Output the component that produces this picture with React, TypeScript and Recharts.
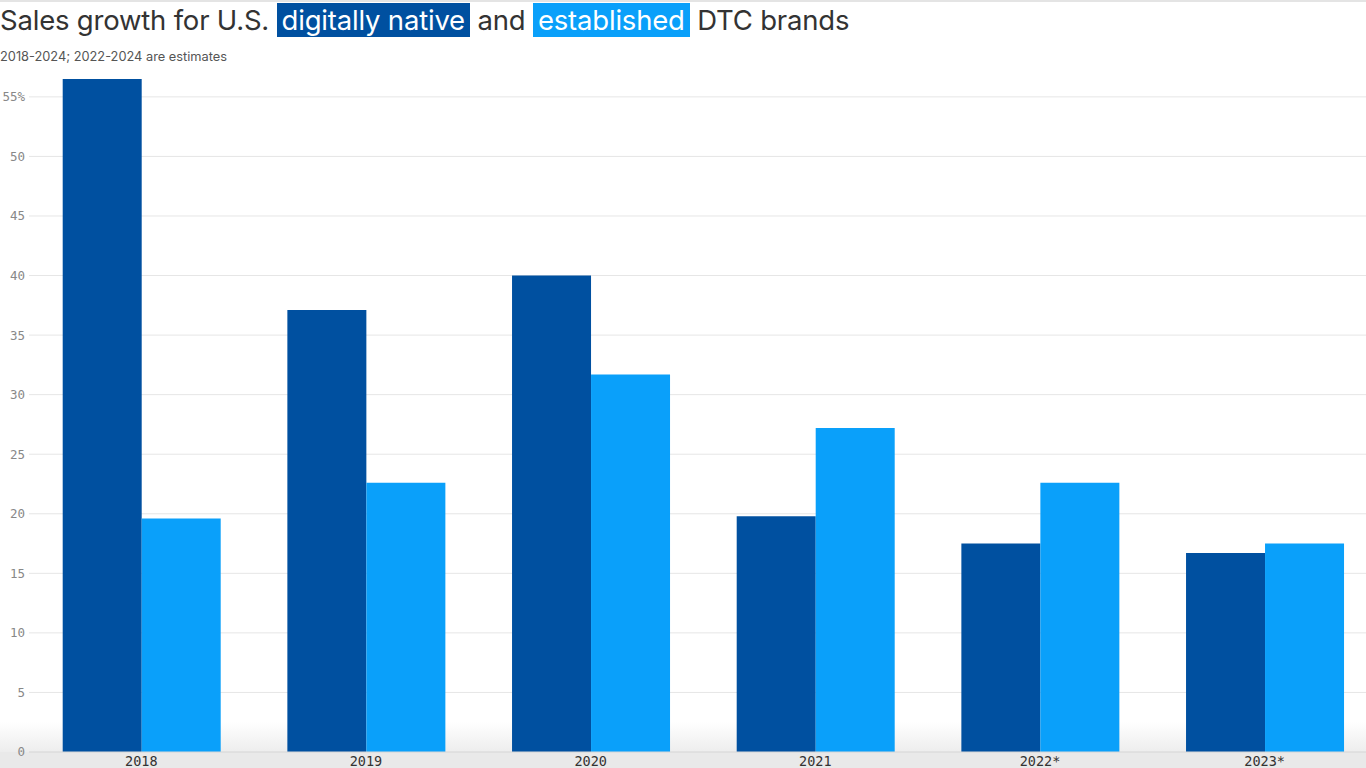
import React from "react";
import { BarChart, Bar, XAxis, YAxis, CartesianGrid } from "recharts";

const years = ["2018", "2019", "2020", "2021", "2022*", "2023*"];
const digitallyNative = [56.5, 37.1, 40.0, 19.8, 17.5, 16.7];
const established = [19.6, 22.6, 31.7, 27.2, 22.6, 17.5];
const yTicks = [0, 5, 10, 15, 20, 25, 30, 35, 40, 45, 50, 55];

const data = years.map((y, i) => ({
  year: y,
  native: digitallyNative[i],
  established: established[i],
}));

const DARK = "#0050a0";
const LIGHT = "#0aa0fa";
const MONO = "'DejaVu Sans Mono', 'Liberation Mono', monospace";

export default function App() {
  return (
    <div
      style={{
        position: "absolute",
        left: 0,
        top: 0,
        width: 1366,
        height: 768,
        overflow: "hidden",
        background: "#fff",
        fontFamily: "Inter, 'Noto Sans', sans-serif",
      }}
    >
      <div style={{ position: "absolute", left: 0, top: 0, width: 1366, height: 2, background: "#e4e4e4" }} />
      <div
        style={{
          position: "absolute",
          left: 0,
          top: 722,
          width: 1366,
          height: 30,
          background: "linear-gradient(#ffffff, #ededed)",
        }}
      />
      <div
        style={{
          position: "absolute",
          left: 0,
          top: 752,
          width: 1366,
          height: 16,
          background: "#e9e9e9",
        }}
      />
      <div
        style={{
          position: "absolute",
          left: 0,
          top: 3,
          fontSize: 27.5,
          lineHeight: "34px",
          color: "#333",
          whiteSpace: "nowrap",
          letterSpacing: -0.2,
        }}
      >
        Sales growth for U.S.{" "}
        <span style={{ background: DARK, color: "#fff", padding: "0 5px" }}>digitally native</span> and{" "}
        <span style={{ background: LIGHT, color: "#fff", padding: "0 5px" }}>established</span> DTC brands
      </div>
      <div
        style={{
          position: "absolute",
          left: 0,
          top: 49,
          fontSize: 12.8,
          color: "#555",
          whiteSpace: "nowrap",
        }}
      >
        2018-2024; 2022-2024 are estimates
      </div>
      <div style={{ position: "absolute", left: 0, top: 0 }}>
        <BarChart
          width={1377}
          height={768}
          data={data}
          margin={{ top: 79, right: 0, bottom: 0, left: 0 }}
          barCategoryGap="15%"
          barGap={0}
        >
          <CartesianGrid vertical={false} stroke="#e6e6e6" horizontalValues={yTicks} />
          <XAxis
            dataKey="year"
            height={16}
            tickLine={false}
            tickSize={0}
            axisLine={{ stroke: "#d8d8d8" }}
            tickMargin={4}
            tick={{ fill: "#333", fontSize: 13.5, fontFamily: MONO }}
            interval={0}
          />
          <YAxis
            width={29}
            domain={[0, 56.5]}
            ticks={yTicks}
            tickFormatter={(v: number) => (v === 55 ? "55%" : String(v))}
            axisLine={false}
            tickLine={false}
            tickSize={0}
            tickMargin={4}
            tick={{ fill: "#888", fontSize: 12.5, fontFamily: MONO }}
          />
          <Bar dataKey="native" fill={DARK} isAnimationActive={false} />
          <Bar dataKey="established" fill={LIGHT} isAnimationActive={false} />
        </BarChart>
      </div>
    </div>
  );
}
